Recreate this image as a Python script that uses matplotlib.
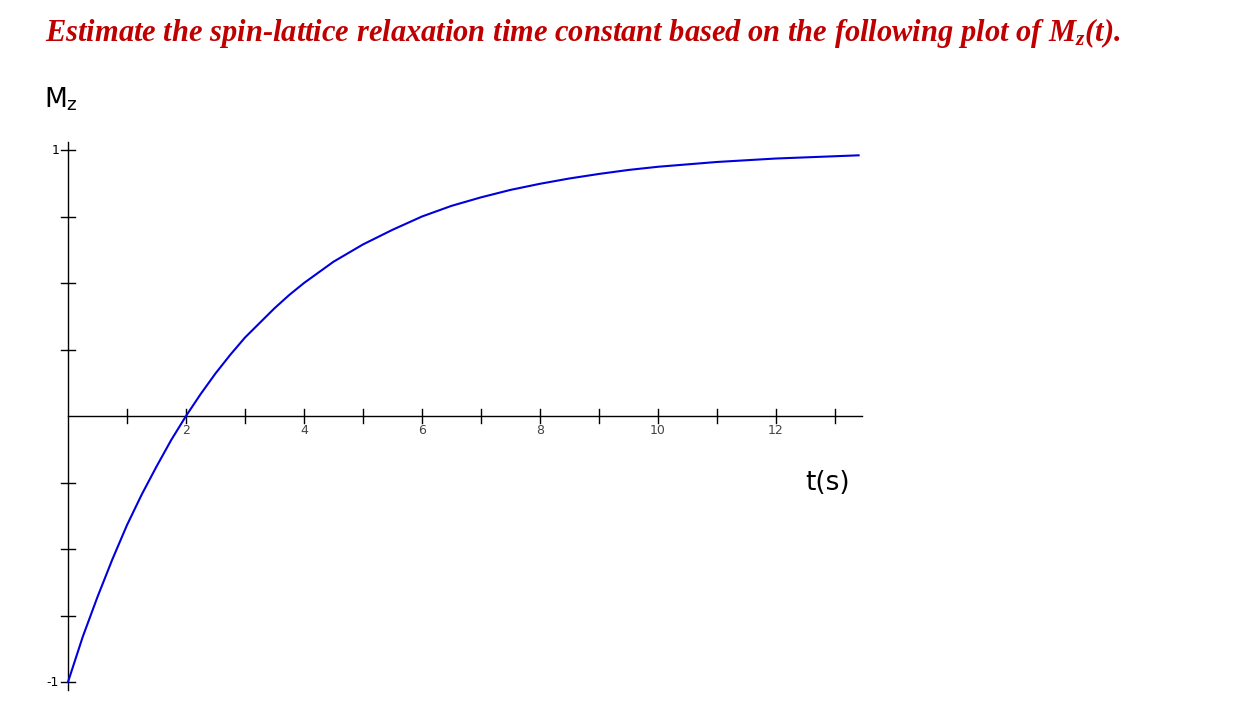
import matplotlib
matplotlib.use("Agg")
import matplotlib.pyplot as plt

plt.rcParams["mathtext.fontset"] = "custom"
plt.rcParams["mathtext.it"] = "Liberation Serif:italic:bold"
plt.rcParams["mathtext.rm"] = "Liberation Serif:italic:bold"

t_vals = [0, 0.25, 0.5, 0.75, 1, 1.25, 1.5, 1.75, 2, 2.25, 2.5, 2.75, 3, 3.25, 3.5, 3.75, 4, 4.5, 5, 5.5, 6, 6.5, 7, 7.5, 8, 8.5, 9, 9.5, 10, 11, 12, 13.4]
mz_vals = [-1.0, -0.83, -0.68, -0.54, -0.41, -0.295, -0.19, -0.09, 0.0, 0.083, 0.16, 0.23, 0.295, 0.35, 0.405, 0.455, 0.50, 0.58, 0.645, 0.70, 0.75, 0.79, 0.822, 0.85, 0.873, 0.893, 0.91, 0.925, 0.937, 0.955, 0.968, 0.98]
x_ticks = list(range(1, 14))
x_labels = {2: "2", 4: "4", 6: "6", 8: "8", 10: "10", 12: "12"}
y_ticks = [-1, -0.75, -0.5, -0.25, 0.25, 0.5, 0.75, 1]

W, H = 1242, 713
fig = plt.figure(figsize=(W/100, H/100), dpi=100)
ax = fig.add_axes([0, 0, 1, 1])
px = 59.0; py = 266.0; x0 = 68; y0 = 416
ax.set_xlim(-x0/px, (W-x0)/px)
ax.set_ylim(-(H-y0)/py, y0/py)
ax.axis("off")

ax.plot([0, 13.45], [0, 0], color="black", lw=1)
ax.plot([0, 0], [-1.03, 1.03], color="black", lw=1)
tx = 7/py; ty = 7/px
for t in x_ticks:
    ax.plot([t, t], [-tx, tx], color="black", lw=1)
    if t in x_labels:
        ax.text(t, -0.03, x_labels[t], ha="center", va="top", fontsize=9, color="#444444")
for y in y_ticks:
    ax.plot([-ty, ty], [y, y], color="black", lw=1)
ax.text(-0.15, 1, "1", ha="right", va="center", fontsize=9)
ax.text(-0.15, -1, "-1", ha="right", va="center", fontsize=9)
ax.text(-0.4, 1.19, "M$_\\mathregular{z}$", fontsize=19, ha="left", va="center",
        family="DejaVu Sans")
ax.text(12.5, -0.25, "t(s)", fontsize=19, ha="left", va="center")

ax.plot(t_vals, mz_vals, color="#0000dd", lw=1.5)

fig.text(45/W, 1-33/H, "Estimate the spin-lattice relaxation time constant based on the following plot of $M_z(t)$.",
         color="#c00000", fontsize=22, style="italic", weight="bold", family="Liberation Serif",
         ha="left", va="center")
fig.savefig("out.png", dpi=100)
